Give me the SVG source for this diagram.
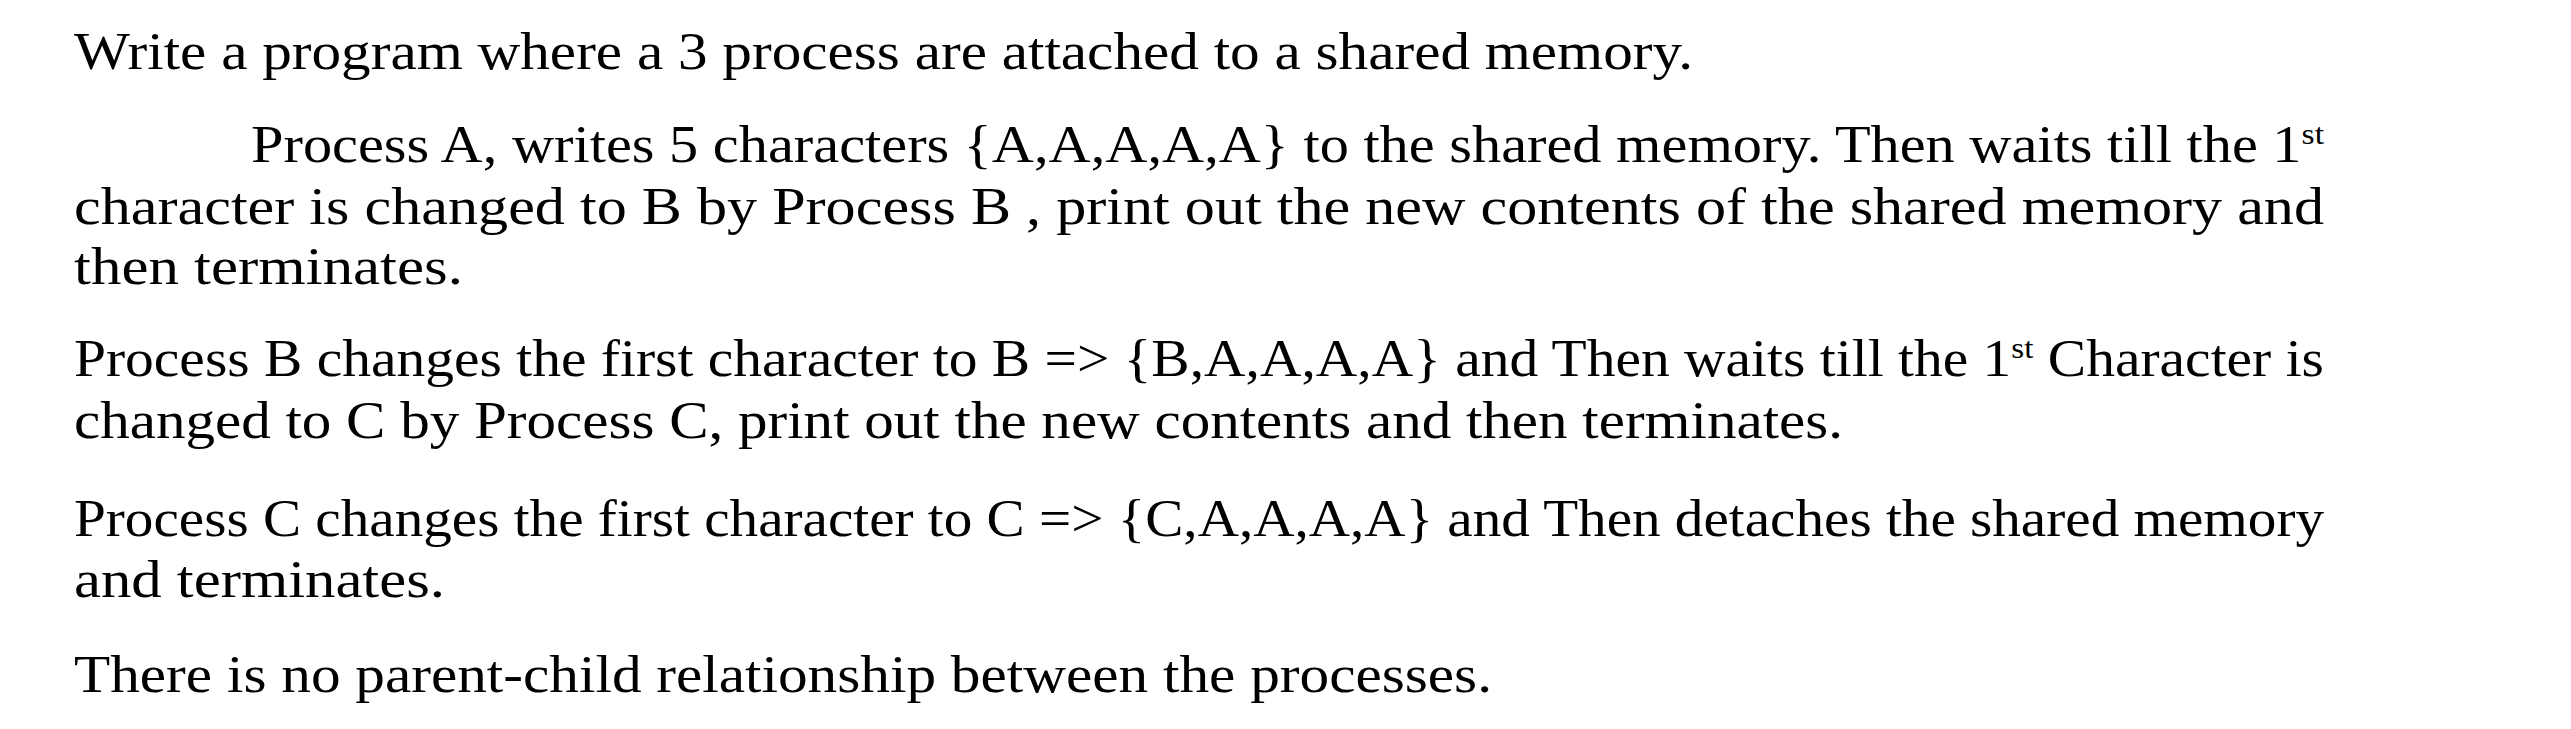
<svg xmlns="http://www.w3.org/2000/svg" width="2571" height="729" viewBox="0 0 2571 729">
<style>
text{font-family:"Liberation Serif","DejaVu Serif",serif;font-size:52px;fill:#000}
.s{font-size:30px}
</style>
<rect width="2571" height="729" fill="#fff"/>
<g id="para1"><text x="74" y="69" textLength="1619" lengthAdjust="spacingAndGlyphs">Write a program where a 3 process are attached to a shared memory.</text></g>
<g id="para2">
<text x="251" y="162" textLength="2073" lengthAdjust="spacingAndGlyphs">Process A, writes 5 characters {A,A,A,A,A} to the shared memory. Then waits till the 1<tspan class="s" dy="-18">st</tspan></text>
<text x="74" y="224" textLength="2250" lengthAdjust="spacingAndGlyphs">character is changed to B by Process B , print out the new contents of the shared memory and</text>
<text x="74" y="284" textLength="389" lengthAdjust="spacingAndGlyphs">then terminates.</text>
</g>
<g id="para3">
<text x="74" y="376" textLength="2250" lengthAdjust="spacingAndGlyphs">Process B changes the first character to B =&gt; {B,A,A,A,A} and Then waits till the 1<tspan class="s" dy="-18">st</tspan><tspan dy="18"> Character is</tspan></text>
<text x="74" y="438" textLength="1769" lengthAdjust="spacingAndGlyphs">changed to C by Process C, print out the new contents and then terminates.</text>
</g>
<g id="para4">
<text x="74" y="536" textLength="2250" lengthAdjust="spacingAndGlyphs">Process C changes the first character to C =&gt; {C,A,A,A,A} and Then detaches the shared memory</text>
<text x="74" y="597" textLength="371" lengthAdjust="spacingAndGlyphs">and terminates.</text>
</g>
<g id="para5"><text x="74" y="692" textLength="1418" lengthAdjust="spacingAndGlyphs">There is no parent-child relationship between the processes.</text></g>
</svg>
